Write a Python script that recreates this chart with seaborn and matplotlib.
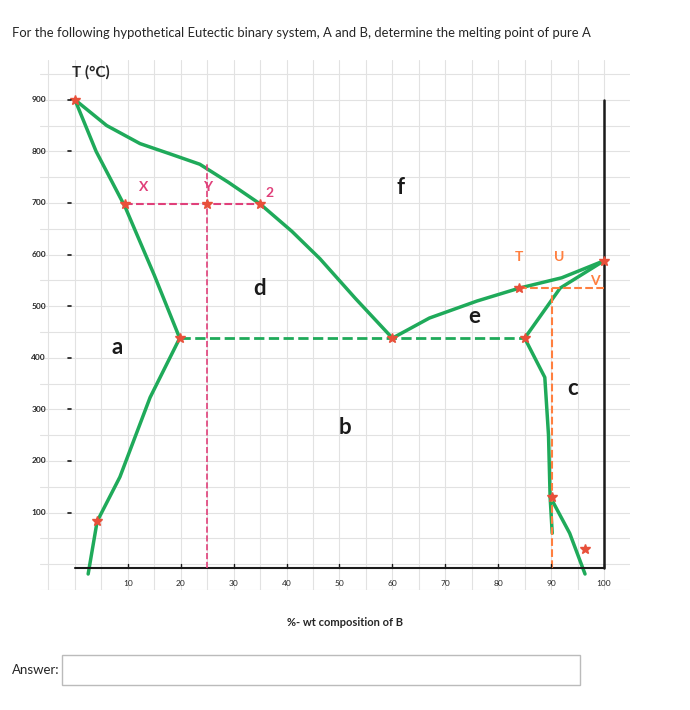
import matplotlib
matplotlib.use("Agg")
import matplotlib.pyplot as plt
import seaborn as sns
import numpy as np

sns.set_theme(style="white")
plt.rcParams['font.family'] = ['Lato', 'DejaVu Sans']

# data (composition %B, temperature °C)
liq_left_x = [0, 6, 12.3, 18, 23.6, 29, 35, 41, 46.3, 53, 60]
liq_left_t = [900, 850, 815, 795, 775, 740, 698, 645, 592, 515, 438]
sol_left_x = [0, 4, 9.5, 15, 19.8]
sol_left_t = [900, 800, 692, 560, 438]
solv_left_x = [19.8, 14.2, 8.5, 4.2, 2.5]
solv_left_t = [438, 323, 169, 83, -19]
liq_right_x = [60, 67, 76, 84, 92, 100]
liq_right_t = [438, 477, 510, 535, 555, 588]
sol_right_x = [100, 91.7, 85]
sol_right_t = [588, 535, 438]
solv_right_x = [85, 88.8, 89.5, 89.8, 90.2]
solv_right_t = [438, 362, 250, 131, 60]
tail_x = [89.8, 93.5, 96.4]
tail_t = [131, 60, -19]
yticks = [100, 200, 300, 400, 500, 600, 700, 800, 900]
xticks = [10, 20, 30, 40, 50, 60, 70, 80, 90, 100]
labels = {"a": (8, 420), "b": (51, 265), "d": (34.8, 535), "e": (75.5, 480),
          "f": (61.5, 730), "c": (94, 340), "X": (13, 730), "Y": (25, 730),
          "2": (36.8, 720), "T": (84, 595), "U": (91.5, 595), "V": (98.3, 548)}

fig = plt.figure(figsize=(6.9, 7.1), dpi=100)
ax = fig.add_axes([40/690, 1-590/710, 590/690, 530/710])
ax.set_xlim(-6.6, 104.9)
ax.set_ylim(-42.3, 977)
ax.set_xticks(np.arange(-5, 105, 5))
ax.set_yticks(np.arange(-50, 1000, 50))
ax.grid(True, color="#e2e2e2", lw=0.8)
ax.tick_params(length=0, labelbottom=False, labelleft=False)
for s in ax.spines.values():
    s.set_visible(False)

g = "#1faa5a"
for xs, ts in [(liq_left_x, liq_left_t), (sol_left_x, sol_left_t), (solv_left_x, solv_left_t),
               (liq_right_x, liq_right_t), (sol_right_x, sol_right_t),
               (solv_right_x, solv_right_t), (tail_x, tail_t)]:
    sns.lineplot(x=xs, y=ts, ax=ax, color=g, lw=2.5, sort=False, estimator=None)

ax.plot([0, 100], [-8, -8], color="k", lw=1.5)
ax.plot([100, 100], [-8, 900], color="k", lw=1.8)
ax.plot([9.5, 35], [698, 698], color="#e0407a", ls="--", lw=1.5)
ax.plot([25, 25], [-8, 775], color="#e0407a", ls="--", lw=1.2)
ax.plot([19.8, 85], [438, 438], color=g, ls="--", lw=2)
ax.plot([90.2, 90.2], [-8, 535], color="#ff7f3f", ls="--", lw=1.5)
ax.plot([84, 100], [535, 535], color="#ff7f3f", ls="--", lw=1.5)
for px, pt in [(0, 900), (9.5, 698), (35, 698), (19.8, 438), (60, 438), (85, 438),
               (100, 588), (84, 535), (90.2, 131), (4.2, 83), (96.4, 30), (25, 698)]:
    ax.plot(px, pt, marker="*", color="#e8503a", ms=7)

for t in yticks:
    ax.text(-5.5, t, str(t), fontsize=6, fontweight="bold", ha="right", va="center")
    ax.plot([-1.3, -0.7], [t, t], color="k", lw=1.2)
for x in xticks:
    ax.text(x, -30, str(x), fontsize=6, ha="center", va="top")
    ax.plot([x, x], [-8, 0], color="k", lw=1)
for k, (x, t) in labels.items():
    col = "#ff7f3f" if k in "TUV" else ("#e0407a" if k in "XY2" else "k")
    ax.text(x, t, k.lower() if k in "abcdef" else k, fontsize=16 if k in "abcdef" else 10,
            color=col, ha="center", va="center", fontweight="bold")
ax.text(3, 945, "T (°C)", fontsize=11, fontweight="bold", ha="center")
ax.text(40, -120, "%- wt composition of B", fontsize=8, fontweight="bold", clip_on=False)

fig.text(12/690, 1-33/710, "For the following hypothetical Eutectic binary system, A and B, determine the melting point of pure A",
         fontsize=9.4, va="center")
fig.text(12/690, 1-670/710, "Answer:", fontsize=9.5, va="center")
box = plt.Rectangle((62/690, 1-685/710), 518/690, 30/710, transform=fig.transFigure,
                    fill=False, ec="#bbbbbb", lw=1)
fig.add_artist(box)
fig.savefig("out.png", dpi=100)
